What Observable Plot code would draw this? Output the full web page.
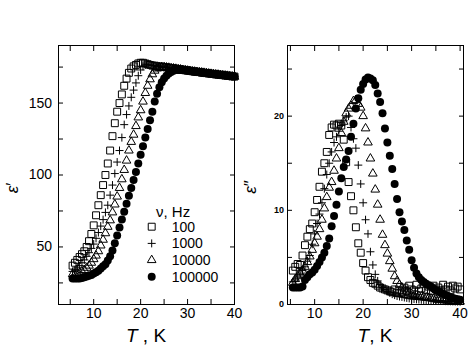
<!DOCTYPE html>
<html><head><meta charset="utf-8">
<script src="https://cdn.jsdelivr.net/npm/d3@7"></script>
<script src="https://cdn.jsdelivr.net/npm/@observablehq/plot@0.6"></script>
<style>
html,body{margin:0;padding:0;background:#fff;}
#wrap{position:relative;width:474px;height:354px;overflow:hidden;font-family:"Liberation Sans",Arial,sans-serif;color:#000;background:#fff;}
#wrap > svg{position:absolute;top:0;}
.lbl{position:absolute;white-space:nowrap;line-height:1;color:#000;}
</style></head><body><div id="wrap"></div>
<script>
// Temperature, K (shared by all series)
const T = [5.5,6,6.5,7,7.5,8,8.5,9,9.5,10, 10.5,11,11.5,12,12.5,13,13.5,14,14.5,15, 15.5,16,16.5,17,17.5,18,18.5,19,19.5,20, 20.5,21,21.5,22,22.5,23,23.5,24,24.5,25, 25.5,26,26.5,27,27.5,28,28.5,29,29.5,30, 30.5,31,31.5,32,32.5,33,33.5,34,34.5,35, 35.5,36,36.5,37,37.5,38,38.5,39,39.5,40];

const freqs = ["100", "1000", "10000", "100000"];

// epsilon' (real part)
const eps1_100 = [37,39,41,43,45,47,50,54,59,65, 72,79,86,93,100,108,117,127,136,144, 150,156,162,167,171,174,175.5,176.5,177.5,178, 178,177.5,177,176.5,176,176,175.5,175.5,175,175, 174.8,174.5,174.3,174,173.8,173.6,173.3,173.1,172.9,172.6, 172.4,172.1,171.9,171.7,171.5,171.2,171,170.8,170.6,170.4, 170.2,170,169.8,169.6,169.4,169.2,169,168.8,168.6,168.4];
const eps1_1000 = [33,34,35.5,37,39,41,43.5,46,49,52, 56,60,64.5,69,74,79,86,93,101,109, 117,126,135,142,148,154,159,164,169,173, 175.5,176.5,177,176.5,176,176,175.5,175.5,175,175, 174.7,174.4,174.2,174,173.8,173.5,173.3,173,172.8,172.5, 172.3,172.1,171.9,171.6,171.4,171.2,171,170.8,170.6,170.3, 170.1,169.9,169.7,169.5,169.3,169.1,168.9,168.7,168.5,168.3];
const eps1_10000 = [31,31,31.5,32,33,34,35.5,37,39,41.5, 44,47,51,55,59.5,64,68.5,74,79.5,85, 91,97,103.5,110,117,123,128,134,140,145, 151,157,162,166.5,170,172.5,174,174.5,175,175, 174.7,174.5,174.2,174,173.8,173.5,173.3,173,172.8,172.5, 172.3,172,171.8,171.6,171.4,171.2,171,170.8,170.5,170.3, 170.1,169.9,169.7,169.5,169.3,169.1,168.9,168.7,168.5,168.3];
const eps1_100000 = [28,28,28,28,28.5,29,29.5,30,30.5,31.5, 32.5,33.5,35,36.5,38,40.5,43.5,47.5,52.5,58, 63.5,69,74.5,80,85.5,91,96.5,102,108,114, 120,126,132,138,144,151,156.5,161,164.5,167, 169,170.5,171.5,172.5,173,173,173,172.8,172.6,172.4, 172.2,172,171.8,171.6,171.4,171.1,170.9,170.7,170.5,170.3, 170.1,169.9,169.7,169.5,169.3,169.1,168.9,168.7,168.6,168.5];

// epsilon'' (imaginary part)
const eps2_100 = [3.6,4.0,4.3,4.2,5.2,6.3,7.2,8.0,8.6,9.8, 11.1,12.5,14.1,15.0,16.2,18.0,18.8,19.1,19.0,19.2, 19.0,17.5,15.1,13.0,11.5,10.0,8.2,6.5,5.5,4.4, 3.6,2.9,2.6,2.3,2.2,2.0,1.8,1.7,1.6,1.5, 1.4,1.3,1.6,1.2,1.5,1.3,1.8,1.4,2.0,1.6, 1.5,2.1,1.4,1.7,2.2,1.5,1.9,1.4,2.0,1.6, 1.8,1.5,2.1,1.6,1.9,1.5,2.0,1.7,1.9,1.6];
const eps2_1000 = [2.4,2.6,2.9,3.2,3.6,4.0,4.6,5.2,6.4,7.5, 8.6,9.6,10.8,12.3,13.8,15.0,16.2,17.2,17.8,18.4, 19.0,19.5,19.9,20.0,18.8,17.6,16.6,14.8,12.8,10.8, 9.0,7.5,5.6,4.2,3.2,2.5,2.1,1.8,1.6,1.4, 1.25,1.1,1.0,0.9,0.85,0.8,0.75,0.7,0.65,0.6, 0.58,0.55,0.53,0.5,0.48,0.46,0.45,0.43,0.42,0.4, 0.39,0.38,0.37,0.36,0.35,0.34,0.33,0.32,0.31,0.3];
const eps2_10000 = [2.3,2.7,3.0,3.3,3.6,4.0,4.5,5.1,5.8,6.5, 7.2,8.0,9.0,10.2,11.4,12.4,13.0,14.2,15.5,16.6, 18.2,19.4,20.3,20.8,21.1,21.6,21.7,21.3,20.9,20.0, 18.7,17.2,15.5,13.9,12.2,10.6,9.0,7.4,6.3,5.4, 4.6,3.8,3.0,2.5,2.1,1.8,1.6,1.4,1.25,1.1, 1.0,0.95,0.9,0.85,0.8,0.75,0.7,0.65,0.6,0.55, 0.5,0.5,0.45,0.45,0.4,0.4,0.35,0.35,0.3,0.3];
const eps2_100000 = [1.8,1.8,1.8,1.8,1.9,2.6,2.9,3.2,3.4,3.7, 4.1,4.5,5.0,5.5,6.2,7.0,8.3,9.4,10.6,12.0, 13.4,14.6,15.4,16.3,17.8,19.2,20.8,21.9,22.8,23.4, 23.9,24.1,24.0,23.8,23.3,22.4,21.5,20.3,18.7,17.2, 15.8,14.4,12.8,11.2,9.8,8.8,7.9,6.8,5.8,4.7, 3.9,3.3,2.9,2.6,2.4,2.2,2.05,1.9,1.7,1.5, 1.4,1.25,1.15,1.0,0.9,0.8,0.7,0.6,0.55,0.5];

// ticks
const xTicksAll = [5,10,15,20,25,30,35,40];
const xTickLabels = [10,20,30,40];
const y1TicksAll = [25,50,75,100,125,150,175];
const y1TickLabels = [50,100,150];
const y2TicksAll = [0,5,10,15,20,25];
const y2TickLabels = [0,10,20];

const FONT = '"Liberation Sans", Arial, sans-serif';
const toRows = (vals, f) => T.map((t, i) => ({T: t, v: vals[i], freq: f}));
const series1 = [eps1_100, eps1_1000, eps1_10000, eps1_100000].map((s, k) => toRows(s, freqs[k]));
const series2 = [eps2_100, eps2_1000, eps2_10000, eps2_100000].map((s, k) => toRows(s, freqs[k]));

const symStyles = [
  {symbol: "square", r: 3.9, fill: "none", stroke: "#000", strokeWidth: 1},
  {symbol: "plus", r: 2.7, fill: "none", stroke: "#000", strokeWidth: 1},
  {symbol: "triangle", r: 3.2, fill: "none", stroke: "#000", strokeWidth: 1},
  {symbol: "circle", r: 4, fill: "#000", stroke: "none"}
];

function dotsFor(series) {
  return series.map((rows, k) => Plot.dot(rows, {x: "T", y: "v", ...symStyles[k]}));
}

function panel({width, marginLeft, marginRight, xDomain, yDomain, yAll, yLab, ySize, yPad, yWeight, series}) {
  return Plot.plot({
    width, height: 354,
    marginLeft, marginRight, marginTop: 45, marginBottom: 50,
    x: {domain: xDomain},
    y: {domain: yDomain},
    style: {fontFamily: FONT, fontSize: "14px", color: "#000", background: "transparent", overflow: "visible"},
    marks: [
      Plot.frame({stroke: "#000", strokeWidth: 1}),
      Plot.axisX({ticks: xTicksAll, tickSize: -5, tickPadding: 9, tickFormat: d => xTickLabels.includes(d) ? String(d) : "", label: null}),
      Plot.axisX({anchor: "top", ticks: xTicksAll, tickSize: -5, tickFormat: () => "", label: null}),
      Plot.axisY({ticks: yAll, tickSize: -5, tickPadding: yPad, fontSize: ySize, fontWeight: yWeight, tickFormat: d => yLab.includes(d) ? String(d) : "", label: null}),
      Plot.axisY({anchor: "right", ticks: yAll, tickSize: -5, tickFormat: () => "", label: null}),
      ...dotsFor(series)
    ]
  });
}

const wrap = document.getElementById("wrap");

const left = panel({width: 240, marginLeft: 58, marginRight: 6, xDomain: [2.5, 40], yDomain: [10, 190],
  yAll: y1TicksAll, yLab: y1TickLabels, ySize: 14, yPad: 11.5, yWeight: "normal", series: series1});
left.style.left = "0px";
wrap.appendChild(left);

const right = panel({width: 234, marginLeft: 47, marginRight: 11, xDomain: [4.4, 40.7], yDomain: [0, 27.5],
  yAll: y2TicksAll, yLab: y2TickLabels, ySize: 9, yPad: 8.5, yWeight: "bold", series: series2});
right.style.left = "240px";
wrap.appendChild(right);

// axis titles
function addLabel(html, x, y, size, extra) {
  const d = document.createElement("div");
  d.className = "lbl";
  d.innerHTML = html;
  d.style.left = x + "px";
  d.style.top = y + "px";
  d.style.fontSize = size + "px";
  d.style.transform = "translate(-50%,-50%)" + (extra || "");
  wrap.appendChild(d);
}
addLabel('<i>T</i> , K', 146, 335, 19);
addLabel('<i>T</i>, K', 375, 335, 19);
addLabel('<i>ε</i>′', 12, 188, 17, " rotate(-90deg)");
addLabel('<i>ε</i>″', 250, 187, 17, " rotate(-90deg)");

// legend
const legTitle = document.createElement("div");
legTitle.className = "lbl";
legTitle.innerHTML = "ν, Hz";
legTitle.style.cssText += "left:156px;top:204px;font-size:15px;";
wrap.appendChild(legTitle);

const legSvg = d3.select(wrap).append("svg")
  .attr("width", 474).attr("height", 354)
  .style("position", "absolute").style("left", "0px").style("top", "0px");
const d3Syms = [d3.symbolSquare, d3.symbolPlus, d3.symbolTriangle, d3.symbolCircle];
freqs.forEach((f, k) => {
  const st = symStyles[k];
  const cy = 226.7 + k * 16.7;
  legSvg.append("path")
    .attr("transform", `translate(151.7,${cy})`)
    .attr("d", d3.symbol(d3Syms[k], Math.PI * st.r * st.r)())
    .attr("fill", st.fill).attr("stroke", st.stroke).attr("stroke-width", st.strokeWidth || 1);
  legSvg.append("text")
    .attr("x", 171.7).attr("y", cy).attr("dy", "0.36em")
    .attr("font-family", FONT).attr("font-size", 14).attr("fill", "#000")
    .text(f);
});
</script>
</body></html>
